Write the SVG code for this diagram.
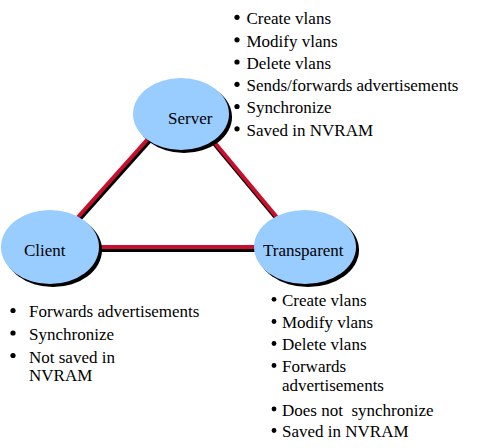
<svg xmlns="http://www.w3.org/2000/svg" width="491" height="448" viewBox="0 0 491 448">
<style>
.t{font-family:"Liberation Serif","Times New Roman",serif;font-size:17px;fill:#000}
.sh{fill:#000}
.node{fill:#99CCFF}
.lr{stroke:#C8102E;stroke-width:4;fill:none}
.lb{stroke:#000;stroke-width:4;fill:none}
.b{fill:#000}
</style>
<rect width="491" height="448" fill="#fff"/>
<g id="connectors">
<line class="lb" x1="71" y1="229" x2="156" y2="134"/>
<line class="lr" x1="70" y1="226" x2="155" y2="131"/>
<line class="lb" x1="206" y1="134" x2="291" y2="236"/>
<line class="lr" x1="205" y1="131" x2="290" y2="233"/>
<line class="lb" x1="60" y1="250" x2="290" y2="250"/>
<line class="lr" x1="60" y1="247" x2="290" y2="247"/>
</g>
<g id="server">
<ellipse class="sh" cx="184" cy="117" rx="48" ry="36"/>
<ellipse class="node" cx="181" cy="114" rx="48" ry="36"/>
<text class="t" x="168" y="124">Server</text>
</g>
<g id="client">
<ellipse class="sh" cx="53" cy="250" rx="49" ry="37"/>
<ellipse class="node" cx="50" cy="247" rx="49" ry="37"/>
<text class="t" x="24" y="256">Client</text>
</g>
<g id="transparent">
<ellipse class="sh" cx="308" cy="250" rx="51" ry="37"/>
<ellipse class="node" cx="305" cy="247" rx="51" ry="37"/>
<text class="t" x="263" y="256">Transparent</text>
</g>
<g id="server-list">
<circle class="b" cx="237" cy="17.3" r="2.6"/>
<circle class="b" cx="237" cy="39.8" r="2.6"/>
<circle class="b" cx="237" cy="62" r="2.6"/>
<circle class="b" cx="237" cy="84.3" r="2.6"/>
<circle class="b" cx="237" cy="106.5" r="2.6"/>
<circle class="b" cx="237" cy="128.8" r="2.6"/>
<text class="t" x="246.5" y="24">Create vlans</text>
<text class="t" x="246.5" y="46.5">Modify vlans</text>
<text class="t" x="246.5" y="68.7">Delete vlans</text>
<text class="t" x="246.5" y="91">Sends/forwards advertisements</text>
<text class="t" x="246.5" y="113.2">Synchronize</text>
<text class="t" x="246.5" y="135.5">Saved in NVRAM</text>
</g>
<g id="client-list">
<circle class="b" cx="13" cy="310.5" r="2.6"/>
<circle class="b" cx="13" cy="333" r="2.6"/>
<circle class="b" cx="13" cy="355.5" r="2.6"/>
<text class="t" x="29" y="317">Forwards advertisements</text>
<text class="t" x="29" y="340">Synchronize</text>
<text class="t" x="29" y="362.5">Not saved in</text>
<text class="t" x="29" y="381">NVRAM</text>
</g>
<g id="transparent-list">
<circle class="b" cx="274" cy="299.3" r="2.4"/>
<circle class="b" cx="274" cy="321.5" r="2.4"/>
<circle class="b" cx="274" cy="343.5" r="2.4"/>
<circle class="b" cx="274" cy="365.5" r="2.4"/>
<circle class="b" cx="274" cy="409" r="2.4"/>
<circle class="b" cx="274" cy="430.5" r="2.4"/>
<text class="t" x="282" y="306">Create vlans</text>
<text class="t" x="282" y="328">Modify vlans</text>
<text class="t" x="282" y="350">Delete vlans</text>
<text class="t" x="282" y="372">Forwards</text>
<text class="t" x="282" y="390.5">advertisements</text>
<text class="t" x="282" y="415.5" xml:space="preserve">Does not  synchronize</text>
<text class="t" x="282" y="437">Saved in NVRAM</text>
</g>
</svg>
